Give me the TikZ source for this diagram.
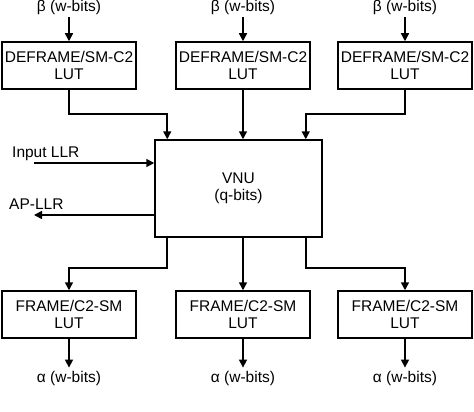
\documentclass[tikz,border=0pt]{standalone}
\usepackage{fontspec}
\setmainfont{Liberation Sans}
\usetikzlibrary{arrows.meta}
\tikzset{
lut/.style={
	  draw, line width=1.5pt, align=center, minimum width=134pt,
	    minimum height=47pt, inner sep=2pt, font=\fontsize{15.5}{17}\selectfont},
lbl/.style={inner sep=3pt, font=\fontsize{15.5}{17}\selectfont},
arr/.style={line width=1.6pt, -{Triangle[length=8pt,width=8pt]}}
}

\begin{document}
\begin{tikzpicture}[x=1pt, y=-1pt]
	\useasboundingbox (0,0) rectangle (474,412);
	% lookup tables in
	\node[lut] (dfr1) at (69,65.5)  {DEFRAME/SM-C2\\LUT};
	\node[lut] (dfr2) at (243,65.5) {DEFRAME/SM-C2\\LUT};
	\node[lut] (dfr3) at (405,65.5) {DEFRAME/SM-C2\\LUT};
	\node[lbl] (beta1) at (69,7)  {β (w-bits)};
	\node[lbl] (beta2) at (243,7) {β (w-bits)};
	\node[lbl] (beta3) at (405,7) {β (w-bits)};
	% node unit
	\node[lut, minimum width=167pt, minimum height=97pt] (vnu) at (238.5,188.5) {VNU\\(q-bits)};
	\node[lbl, anchor=west] (inllr) at (9,154) {Input LLR};
	\node[lbl, anchor=west] (apllr) at (6,204) {AP-LLR};
	\coordinate (inend) at (34,163);
	\coordinate (apend) at (34,215);
	% lookup tables out
	\node[lut] (frm1) at (69,314.5)  {FRAME/C2-SM\\LUT};
	\node[lut] (frm2) at (243,314.5) {FRAME/C2-SM\\LUT};
	\node[lut] (frm3) at (405,314.5) {FRAME/C2-SM\\LUT};
	\node[lbl] (alpha1) at (69,378)  {α (w-bits)};
	\node[lbl] (alpha2) at (243,378) {α (w-bits)};
	\node[lbl] (alpha3) at (405,378) {α (w-bits)};

	\draw[arr] (beta1) -- (dfr1);
	\draw[arr] (beta2) -- (dfr2);
	\draw[arr] (beta3) -- (dfr3);
	\draw[arr] (dfr1.south) -- ++(0,24) -| ([xshift=13pt]vnu.north west);
	\draw[arr] (dfr2.south) -- (vnu.north -| dfr2);
	\draw[arr] (dfr3.south) -- ++(0,24) -| ([xshift=-17pt]vnu.north east);
	\draw[arr] (inend) -- (inend -| vnu.west);
	\draw[arr] (apend -| vnu.west) -- (apend);
	\draw[arr] ([xshift=13pt]vnu.south west) -- ++(0,30) -| (frm1.north);
	\draw[arr] (vnu.south -| frm2) -- (frm2.north);
	\draw[arr] ([xshift=-17pt]vnu.south east) -- ++(0,30) -| (frm3.north);
	\draw[arr] (frm1) -- (alpha1);
	\draw[arr] (frm2) -- (alpha2);
	\draw[arr] (frm3) -- (alpha3);
\end{tikzpicture}
\end{document}
